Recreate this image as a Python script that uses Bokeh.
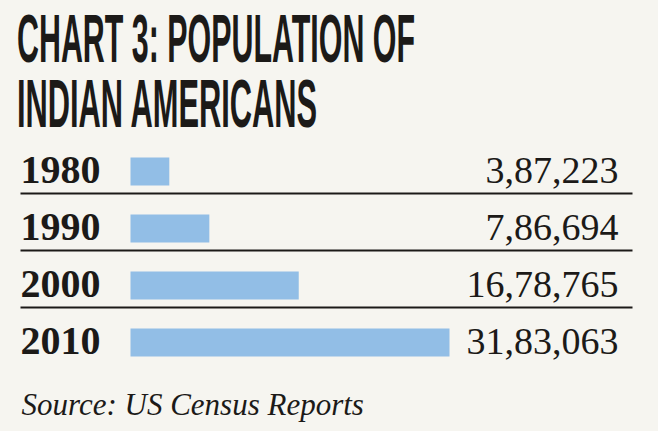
from bokeh.plotting import figure
from bokeh.models import Range1d, Div
from bokeh.layouts import column
from bokeh.core.properties import value
from bokeh.embed import file_html
from bokeh.resources import INLINE

# ---- data ----
years = ["1980", "1990", "2000", "2010"]
population = [387223, 786694, 1678765, 3183063]
population_labels = ["3,87,223", "7,86,694", "16,78,765", "31,83,063"]
title_lines = ["CHART 3: POPULATION OF", "INDIAN AMERICANS"]
source_text = "Source: US Census Reports"

# ---- layout (pixels) ----
W, H = 658, 431
TITLE_H = 140
bar_left_px = 130
px_per_unit = 319 / 3183063
def xu(px):
    return (px - bar_left_px) / px_per_unit

row_top = 171
row_step = 57
centers = [row_top + i * row_step for i in range(len(years))]

BG = "#f6f5f0"
INK = "#1c1a18"
BAR = "#92bee6"

BASE_FIX = 0.35  # em offset so that y is the text's baseline

def base(y, size):
    return y - BASE_FIX * size

# ---- title (condensed by a horizontal scale transform) ----
def title_line(txt, y, natural_w, target_w):
    sx = target_w / natural_w
    return (f'<text transform="translate(17,{y}) scale({sx:.4f},1)" x="0" y="0" '
            f'font-family="Roboto" font-weight="900" font-size="68" fill="{INK}" '
            f'textLength="{natural_w}" lengthAdjust="spacingAndGlyphs">{txt}</text>')

title_svg = (
    f'<svg width="{W}" height="{TITLE_H}" xmlns="http://www.w3.org/2000/svg" style="display:block">'
    f'<rect width="{W}" height="{TITLE_H}" fill="{BG}"/>'
    + title_line(title_lines[0], 62, 890, 398)
    + title_line(title_lines[1], 127, 662, 300)
    + '</svg>'
)
title = Div(text=title_svg, width=W, height=TITLE_H, margin=0,
            styles={"background-color": BG, "padding": "0", "margin": "0"})

# ---- chart ----
p = figure(width=W, height=H - TITLE_H, output_backend="svg", toolbar_location=None,
           x_range=Range1d(xu(0), xu(W)), y_range=Range1d(H, TITLE_H),
           min_border=0, background_fill_color=BG, border_fill_color=BG, margin=0)
p.axis.visible = False
p.grid.visible = False
p.outline_line_color = None

# bars
p.hbar(y=centers, left=0, right=population, height=28, color=BAR, line_color=None)

# separator lines
sep_y = [c + 22 for c in centers[:-1]]
p.segment(x0=[xu(20)] * len(sep_y), x1=[xu(632)] * len(sep_y), y0=sep_y, y1=sep_y,
          line_color=INK, line_width=2)

# year labels
p.text(x=[xu(20)] * len(years), y=[base(c + 12, 40) for c in centers], text=years,
       text_font=value("Liberation Serif"), text_font_style="bold",
       text_font_size="40px", text_color=INK, text_baseline="alphabetic", text_align="left")

# value labels
p.text(x=[xu(618)] * len(years), y=[base(c + 12, 38) for c in centers], text=population_labels,
       text_font=value("Liberation Serif"), text_font_size="38px", text_color=INK,
       text_baseline="alphabetic", text_align="right")

# source
p.text(x=[xu(21)], y=[base(415, 31)], text=[source_text],
       text_font=value("Liberation Serif"), text_font_style="italic",
       text_font_size="31px", text_color=INK, text_baseline="alphabetic", text_align="left")

layout = column(title, p, margin=0, spacing=0, styles={"background-color": BG})
open("out.html", "w").write(file_html(layout, INLINE))
